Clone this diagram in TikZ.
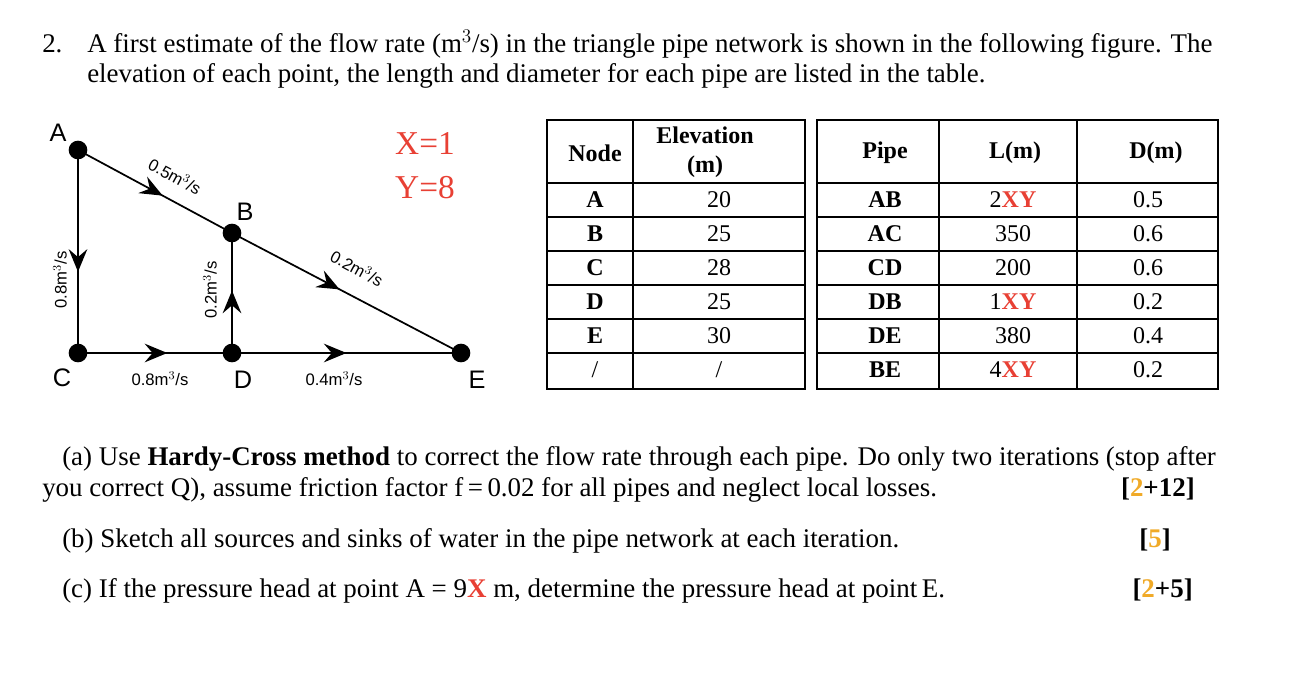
\documentclass[tikz,border=0pt]{standalone}
\usepackage{fontspec}
\setmainfont{Liberation Serif}
\newfontfamily\lsans{Liberation Sans}
\usetikzlibrary{decorations.markings,arrows.meta}
\definecolor{redx}{RGB}{232,64,52}
\definecolor{orng}{RGB}{240,170,40}
\begin{document}
\begin{tikzpicture}[x=0.75pt,y=-0.75pt,
  pipe/.style={line width=1.3pt,postaction={decorate},decoration={markings,mark=at position #1 with {\arrow{Stealth[length=17pt,width=14pt,inset=6pt]}}}},
  dot/.style={circle,fill=black,inner sep=0pt,minimum size=14pt},
  lab/.style={font=\lsans\fontsize{12.5}{14}\selectfont,inner sep=1pt},
  let/.style={font=\lsans\fontsize{19}{21}\selectfont},
  txt/.style={font=\fontsize{20.2}{24}\selectfont,anchor=base west,inner sep=0pt},
  tb/.style={font=\fontsize{18}{20}\selectfont,anchor=center,inner sep=0pt},
  tbb/.style={tb,font=\bfseries\fontsize{18}{20}\selectfont}]
\useasboundingbox (0,0) rectangle (1310,674);
% text
\node[txt] (t0) at (42,53) {2.};
\node[txt] (t1) at (87,53) {A first estimate of the flow rate (m$^3$/s) in the triangle pipe network is shown in the following figure. The};
\node[txt] (t2) at (87,83) {elevation of each point, the length and diameter for each pipe are listed in the table.};
% network
\node[dot] (A) at (78,150) {};
\node[dot] (B) at (232,233) {};
\node[dot] (C) at (78,353) {};
\node[dot] (D) at (232,353) {};
\node[dot] (E) at (461,353) {};
\draw[pipe=0.55] (A.center) -- (B.center);
\draw[pipe=0.6] (A.center) -- (C.center);
\draw[pipe=0.58] (C.center) -- (D.center);
\draw[pipe=0.52] (D.center) -- (B.center);
\draw[pipe=0.5] (D.center) -- (E.center);
\draw[pipe=0.47] (B.center) -- (E.center);
\node[let] (lA) at (58,133) {A};
\node[let] (lB) at (245,212) {B};
\node[let] (lC) at (62,378) {C};
\node[let] (lD) at (243,380) {D};
\node[let] (lE) at (477,380) {E};
\node[lab,rotate=-28.3] (q1) at (175,176) {0.5m$^3$/s};
\node[lab,rotate=-28.3] (q2) at (357,268) {0.2m$^3$/s};
\node[lab,rotate=90] (q3) at (60,280) {0.8m$^3$/s};
\node[lab,rotate=90] (q4) at (210,290) {0.2m$^3$/s};
\node[lab] (q5) at (160,379) {0.8m$^3$/s};
\node[lab] (q6) at (334,379) {0.4m$^3$/s};
\node[font=\fontsize{25}{28}\selectfont,text=redx] (X) at (425,143) {X=1};
\node[font=\fontsize{25}{28}\selectfont,text=redx] (Y) at (425,188) {Y=8};
% tables
\draw[line width=1.2pt] (547,120) rectangle (805,389);
\draw[line width=1.2pt] (817,120) rectangle (1218,389);
\foreach \y in {183,217,251,285,319,353} {
  \draw[line width=1.2pt] (547,\y) -- (805,\y);
  \draw[line width=1.2pt] (817,\y) -- (1218,\y);}
\draw[line width=1.2pt] (633,120) -- (633,389);
\draw[line width=1.2pt] (939,120) -- (939,389);
\draw[line width=1.2pt] (1077,120) -- (1077,389);
\node[tbb] (h1) at (595,153) {Node};
\node[tbb,align=center,font=\bfseries\fontsize{18}{22}\selectfont] (h2) at (705,152) {Elevation\\(m)};
\node[tbb] (h3) at (885,153) {Pipe};
\node[tbb] (h4) at (1015,153) {L(m)};
\node[tbb] (h5) at (1156,153) {D(m)};
\foreach \n/\e/\p/\l/\d [count=\i] in {A/20/AB/2{\color{redx}\bfseries XY}/0.5,B/25/AC/350/0.6,C/28/CD/200/0.6,D/25/DB/1{\color{redx}\bfseries XY}/0.2,E/30/DE/380/0.4,{\normalfont/}/{/}/BE/4{\color{redx}\bfseries XY}/0.2} {
  \pgfmathsetmacro\yy{200+34*(\i-1)}
  \node[tbb] (n\i) at (595,\yy) {\n};
  \node[tb] (e\i) at (719,\yy) {\e};
  \node[tbb] (p\i) at (885,\yy) {\p};
  \node[tb] (l\i) at (1013,\yy) {\l};
  \node[tb] (d\i) at (1148,\yy) {\d};}
% questions
\node[txt] (qa) at (62,465) {(a) Use \textbf{Hardy-Cross method} to correct the flow rate through each pipe. Do only two iterations (stop after};
\node[txt] (qa2) at (42,496) {you correct Q), assume friction factor f\,=\,0.02 for all pipes and neglect local losses.};
\node[txt,anchor=base east] (ma) at (1195,496) {\textbf{[{\color{orng}2}+12]}};
\node[txt] (qb) at (62,547) {(b) Sketch all sources and sinks of water in the pipe network at each iteration.};
\node[txt,anchor=base east] (mb) at (1171,547) {\textbf{[{\color{orng}5}]}};
\node[txt] (qc) at (62,597) {(c) If the pressure head at point A = 9\textbf{\color{redx}X} m, determine the pressure head at point\,E.};
\node[txt,anchor=base east] (mc) at (1193,597) {\textbf{[{\color{orng}2}+5]}};
\end{tikzpicture}
\end{document}
